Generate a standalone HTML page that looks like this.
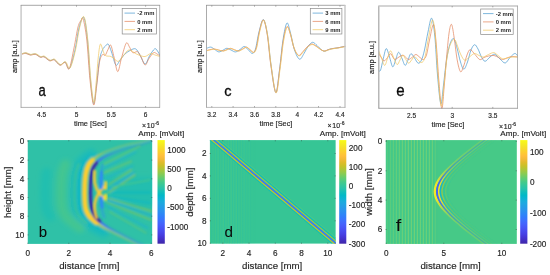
<!DOCTYPE html>
<html><head><meta charset="utf-8"><title>figure</title>
<style>html,body{margin:0;padding:0;background:#fff}svg{display:block}text:not([stroke]){stroke:#262626;stroke-width:0.16px}</style></head>
<body>
<svg width="550" height="275" viewBox="0 0 550 275" font-family="'Liberation Sans', Arial, sans-serif" fill="#262626">
<defs>
<clipPath id="clipa"><rect x="21.5" y="5.5" width="138.5" height="102.5"/></clipPath>
<clipPath id="clipc"><rect x="206.7" y="5.5" width="138.8" height="102.5"/></clipPath>
<clipPath id="clipe"><rect x="378.5" y="6" width="139.3" height="102.8"/></clipPath>
<clipPath id="clipb"><rect x="27.50" y="140.10" width="124.90" height="103.80"/></clipPath>
<filter id="bl1" x="-20%" y="-20%" width="140%" height="140%"><feGaussianBlur stdDeviation="1.0"/></filter>
<filter id="bl2" x="-20%" y="-20%" width="140%" height="140%"><feGaussianBlur stdDeviation="1.6"/></filter>
<filter id="bl07" x="-20%" y="-20%" width="140%" height="140%"><feGaussianBlur stdDeviation="1.15"/></filter>
<filter id="bl03" x="-20%" y="-20%" width="140%" height="140%"><feGaussianBlur stdDeviation="0.3"/></filter>
<filter id="bl3" x="-30%" y="-30%" width="160%" height="160%"><feGaussianBlur stdDeviation="2.6"/></filter>
<filter id="bl05" x="-20%" y="-20%" width="140%" height="140%"><feGaussianBlur stdDeviation="0.45"/></filter>
<linearGradient id="mgb" gradientUnits="userSpaceOnUse" x1="0" y1="140" x2="0" y2="244"><stop offset="0" stop-color="#383838"/><stop offset="0.12" stop-color="#5c5c5c"/><stop offset="0.20" stop-color="#fff"/><stop offset="0.80" stop-color="#fff"/><stop offset="0.88" stop-color="#6a6a6a"/><stop offset="1" stop-color="#4a4a4a"/></linearGradient>
<mask id="mb" maskUnits="userSpaceOnUse" x="0" y="130" width="200" height="130"><rect x="0" y="130" width="200" height="130" fill="url(#mgb)"/></mask>
<linearGradient id="cbb" x1="0" y1="0" x2="0" y2="1"><stop offset="0.0000" stop-color="#f9fb15"/><stop offset="0.0312" stop-color="#f6ef20"/><stop offset="0.0625" stop-color="#f5e327"/><stop offset="0.0938" stop-color="#f9d62d"/><stop offset="0.1250" stop-color="#feca33"/><stop offset="0.1562" stop-color="#febe3c"/><stop offset="0.1875" stop-color="#f1ba37"/><stop offset="0.2188" stop-color="#debc2a"/><stop offset="0.2500" stop-color="#c8c129"/><stop offset="0.2812" stop-color="#afc637"/><stop offset="0.3125" stop-color="#94ca4a"/><stop offset="0.3438" stop-color="#77cc60"/><stop offset="0.3750" stop-color="#5ccc76"/><stop offset="0.4062" stop-color="#44ca8a"/><stop offset="0.4375" stop-color="#34c79c"/><stop offset="0.4688" stop-color="#28c2ab"/><stop offset="0.5000" stop-color="#12beb9"/><stop offset="0.5312" stop-color="#01b9c6"/><stop offset="0.5625" stop-color="#0cb3d3"/><stop offset="0.5938" stop-color="#1aacdd"/><stop offset="0.6250" stop-color="#21a3e3"/><stop offset="0.6562" stop-color="#269ae9"/><stop offset="0.6875" stop-color="#2c90f0"/><stop offset="0.7188" stop-color="#2e85f8"/><stop offset="0.7500" stop-color="#347afd"/><stop offset="0.7812" stop-color="#3f6efe"/><stop offset="0.8125" stop-color="#4562fc"/><stop offset="0.8438" stop-color="#4757f7"/><stop offset="0.8750" stop-color="#484cef"/><stop offset="0.9062" stop-color="#4741e5"/><stop offset="0.9375" stop-color="#4536d5"/><stop offset="0.9688" stop-color="#422ebf"/><stop offset="1.0000" stop-color="#3e26a8"/></linearGradient>
<clipPath id="clipd"><rect x="209.70" y="140.10" width="126.10" height="103.70"/></clipPath>
<pattern id="strd" patternUnits="userSpaceOnUse" x="211.0" y="0" width="2.6" height="10"><rect x="0" y="0" width="1.3" height="10" fill="#2abfa2"/><rect x="1.3" y="0" width="1.3" height="10" fill="#4cca84"/></pattern>
<linearGradient id="strdm" gradientUnits="userSpaceOnUse" x1="210" y1="0" x2="256" y2="0"><stop offset="0" stop-color="#aaa"/><stop offset="0.5" stop-color="#fff"/><stop offset="1" stop-color="#000"/></linearGradient>
<mask id="mstrd" maskUnits="userSpaceOnUse" x="205" y="130" width="60" height="130"><rect x="205" y="130" width="60" height="130" fill="url(#strdm)"/></mask>
<linearGradient id="cbd" x1="0" y1="0" x2="0" y2="1"><stop offset="0.0000" stop-color="#f9fb15"/><stop offset="0.0312" stop-color="#f6ef20"/><stop offset="0.0625" stop-color="#f5e327"/><stop offset="0.0938" stop-color="#f9d62d"/><stop offset="0.1250" stop-color="#feca33"/><stop offset="0.1562" stop-color="#febe3c"/><stop offset="0.1875" stop-color="#f1ba37"/><stop offset="0.2188" stop-color="#debc2a"/><stop offset="0.2500" stop-color="#c8c129"/><stop offset="0.2812" stop-color="#afc637"/><stop offset="0.3125" stop-color="#94ca4a"/><stop offset="0.3438" stop-color="#77cc60"/><stop offset="0.3750" stop-color="#5ccc76"/><stop offset="0.4062" stop-color="#44ca8a"/><stop offset="0.4375" stop-color="#34c79c"/><stop offset="0.4688" stop-color="#28c2ab"/><stop offset="0.5000" stop-color="#12beb9"/><stop offset="0.5312" stop-color="#01b9c6"/><stop offset="0.5625" stop-color="#0cb3d3"/><stop offset="0.5938" stop-color="#1aacdd"/><stop offset="0.6250" stop-color="#21a3e3"/><stop offset="0.6562" stop-color="#269ae9"/><stop offset="0.6875" stop-color="#2c90f0"/><stop offset="0.7188" stop-color="#2e85f8"/><stop offset="0.7500" stop-color="#347afd"/><stop offset="0.7812" stop-color="#3f6efe"/><stop offset="0.8125" stop-color="#4562fc"/><stop offset="0.8438" stop-color="#4757f7"/><stop offset="0.8750" stop-color="#484cef"/><stop offset="0.9062" stop-color="#4741e5"/><stop offset="0.9375" stop-color="#4536d5"/><stop offset="0.9688" stop-color="#422ebf"/><stop offset="1.0000" stop-color="#3e26a8"/></linearGradient>
<clipPath id="clipf"><rect x="385.50" y="140.10" width="131.40" height="103.80"/></clipPath>
<radialGradient id="mgf" gradientUnits="userSpaceOnUse" cx="437" cy="191.5" r="60"><stop offset="0" stop-color="#fff"/><stop offset="0.1" stop-color="#fff"/><stop offset="0.2" stop-color="#d0d0d0"/><stop offset="0.3" stop-color="#929292"/><stop offset="0.4" stop-color="#666"/><stop offset="0.6" stop-color="#444"/><stop offset="1" stop-color="#2e2e2e"/></radialGradient>
<mask id="mf" maskUnits="userSpaceOnUse" x="380" y="130" width="150" height="130"><rect x="380" y="130" width="150" height="130" fill="url(#mgf)"/></mask>
<pattern id="strf" patternUnits="userSpaceOnUse" x="388.0" y="0" width="3.0" height="10"><rect x="0" y="0" width="1.8" height="10" fill="#40c78c"/><rect x="1.8" y="0" width="1.2" height="10" fill="#8ad66c"/></pattern>
<linearGradient id="strfm" gradientUnits="userSpaceOnUse" x1="386" y1="0" x2="438" y2="0"><stop offset="0" stop-color="#333"/><stop offset="0.12" stop-color="#999"/><stop offset="0.5" stop-color="#fff"/><stop offset="0.9" stop-color="#ccc"/><stop offset="1" stop-color="#000"/></linearGradient>
<mask id="mstr" maskUnits="userSpaceOnUse" x="380" y="130" width="70" height="130"><rect x="380" y="130" width="70" height="130" fill="url(#strfm)"/></mask>
<linearGradient id="cbf" x1="0" y1="0" x2="0" y2="1"><stop offset="0.0000" stop-color="#f9fb15"/><stop offset="0.0312" stop-color="#f6ef20"/><stop offset="0.0625" stop-color="#f5e327"/><stop offset="0.0938" stop-color="#f9d62d"/><stop offset="0.1250" stop-color="#feca33"/><stop offset="0.1562" stop-color="#febe3c"/><stop offset="0.1875" stop-color="#f1ba37"/><stop offset="0.2188" stop-color="#debc2a"/><stop offset="0.2500" stop-color="#c8c129"/><stop offset="0.2812" stop-color="#afc637"/><stop offset="0.3125" stop-color="#94ca4a"/><stop offset="0.3438" stop-color="#77cc60"/><stop offset="0.3750" stop-color="#5ccc76"/><stop offset="0.4062" stop-color="#44ca8a"/><stop offset="0.4375" stop-color="#34c79c"/><stop offset="0.4688" stop-color="#28c2ab"/><stop offset="0.5000" stop-color="#12beb9"/><stop offset="0.5312" stop-color="#01b9c6"/><stop offset="0.5625" stop-color="#0cb3d3"/><stop offset="0.5938" stop-color="#1aacdd"/><stop offset="0.6250" stop-color="#21a3e3"/><stop offset="0.6562" stop-color="#269ae9"/><stop offset="0.6875" stop-color="#2c90f0"/><stop offset="0.7188" stop-color="#2e85f8"/><stop offset="0.7500" stop-color="#347afd"/><stop offset="0.7812" stop-color="#3f6efe"/><stop offset="0.8125" stop-color="#4562fc"/><stop offset="0.8438" stop-color="#4757f7"/><stop offset="0.8750" stop-color="#484cef"/><stop offset="0.9062" stop-color="#4741e5"/><stop offset="0.9375" stop-color="#4536d5"/><stop offset="0.9688" stop-color="#422ebf"/><stop offset="1.0000" stop-color="#3e26a8"/></linearGradient>
</defs>
<rect width="550" height="275" fill="#fff"/>
<g>
<g fill="none" stroke-width="0.80" stroke-linejoin="round" stroke-opacity="0.92" clip-path="url(#clipa)">
<path d="M21.50 54.00C22.22 53.83 24.35 52.88 25.80 53.00C27.25 53.12 28.62 54.53 30.20 54.70C31.78 54.87 33.60 53.63 35.30 54.00C37.00 54.37 38.95 56.48 40.40 56.90C41.85 57.32 42.43 55.90 44.00 56.50C45.57 57.10 48.10 60.00 49.80 60.50C51.50 61.00 52.50 58.77 54.20 59.50C55.90 60.23 58.18 64.48 60.00 64.90C61.82 65.32 63.52 61.42 65.10 62.00C66.68 62.58 67.85 70.40 69.50 68.40C71.15 66.40 73.42 56.73 75.00 50.00C76.58 43.27 77.53 33.42 79.00 28.00C80.47 22.58 82.38 15.50 83.80 17.50C85.22 19.50 86.38 29.58 87.50 40.00C88.62 50.42 89.47 69.42 90.50 80.00C91.53 90.58 92.70 102.67 93.70 103.50C94.70 104.33 95.53 92.25 96.50 85.00C97.47 77.75 98.50 65.85 99.50 60.00C100.50 54.15 101.58 52.15 102.50 49.90C103.42 47.65 104.05 47.45 105.00 46.50C105.95 45.55 107.12 43.28 108.20 44.20C109.28 45.12 110.23 48.53 111.50 52.00C112.77 55.47 114.47 63.50 115.80 65.00C117.13 66.50 118.08 62.73 119.50 61.00C120.92 59.27 122.55 56.35 124.30 54.60C126.05 52.85 128.12 51.45 130.00 50.50C131.88 49.55 133.93 48.15 135.60 48.90C137.27 49.65 138.42 52.48 140.00 55.00C141.58 57.52 143.52 63.83 145.10 64.00C146.68 64.17 147.92 58.52 149.50 56.00C151.08 53.48 153.27 49.73 154.60 48.90C155.93 48.07 156.60 49.90 157.50 51.00C158.40 52.10 159.58 54.75 160.00 55.50" stroke="#4f9dd1"/>
<path d="M21.50 54.40C22.22 54.23 24.35 53.28 25.80 53.40C27.25 53.52 28.62 54.93 30.20 55.10C31.78 55.27 33.60 54.03 35.30 54.40C37.00 54.77 38.95 56.88 40.40 57.30C41.85 57.72 42.43 56.30 44.00 56.90C45.57 57.50 48.10 60.40 49.80 60.90C51.50 61.40 52.50 59.17 54.20 59.90C55.90 60.63 58.18 64.88 60.00 65.30C61.82 65.72 63.57 61.82 65.10 62.40C66.63 62.98 67.72 71.20 69.20 68.80C70.68 66.40 72.53 54.97 74.00 48.00C75.47 41.03 76.83 31.58 78.00 27.00C79.17 22.42 80.13 21.83 81.00 20.50C81.87 19.17 82.23 15.75 83.20 19.00C84.17 22.25 85.67 29.83 86.80 40.00C87.93 50.17 88.85 69.17 90.00 80.00C91.15 90.83 92.57 104.17 93.70 105.00C94.83 105.83 95.83 92.17 96.80 85.00C97.77 77.83 98.55 67.07 99.50 62.00C100.45 56.93 101.55 55.72 102.50 54.60C103.45 53.48 104.32 56.07 105.20 55.30C106.08 54.53 106.88 51.70 107.80 50.00C108.72 48.30 109.67 43.93 110.70 45.10C111.73 46.27 112.83 52.58 114.00 57.00C115.17 61.42 116.45 71.43 117.70 71.60C118.95 71.77 120.08 62.73 121.50 58.00C122.92 53.27 124.87 45.03 126.20 43.20C127.53 41.37 128.40 45.42 129.50 47.00C130.60 48.58 131.47 51.92 132.80 52.70C134.13 53.48 136.13 50.98 137.50 51.70C138.87 52.42 139.73 54.78 141.00 57.00C142.27 59.22 143.77 64.75 145.10 65.00C146.43 65.25 147.58 60.55 149.00 58.50C150.42 56.45 152.27 53.45 153.60 52.70C154.93 51.95 155.93 53.48 157.00 54.00C158.07 54.52 159.50 55.50 160.00 55.80" stroke="#e4875f"/>
<path d="M21.90 53.70C22.62 53.53 24.75 52.58 26.20 52.70C27.65 52.82 29.02 54.23 30.60 54.40C32.18 54.57 34.00 53.33 35.70 53.70C37.40 54.07 39.35 56.18 40.80 56.60C42.25 57.02 42.83 55.60 44.40 56.20C45.97 56.80 48.50 59.70 50.20 60.20C51.90 60.70 52.90 58.47 54.60 59.20C56.30 59.93 58.58 64.18 60.40 64.60C62.22 65.02 63.90 61.13 65.50 61.70C67.10 62.27 68.33 69.95 70.00 68.00C71.67 66.05 73.92 56.67 75.50 50.00C77.08 43.33 78.08 33.53 79.50 28.00C80.92 22.47 82.62 14.80 84.00 16.80C85.38 18.80 86.67 29.47 87.80 40.00C88.93 50.53 89.78 69.58 90.80 80.00C91.82 90.42 93.00 102.17 93.90 102.50C94.80 102.83 95.48 89.42 96.20 82.00C96.92 74.58 97.52 64.30 98.20 58.00C98.88 51.70 99.53 45.53 100.30 44.20C101.07 42.87 101.95 48.12 102.80 50.00C103.65 51.88 104.03 54.42 105.40 55.50C106.77 56.58 109.40 55.83 111.00 56.50C112.60 57.17 113.73 58.72 115.00 59.50C116.27 60.28 117.18 61.87 118.60 61.20C120.02 60.53 121.77 57.38 123.50 55.50C125.23 53.62 126.98 50.22 129.00 49.90C131.02 49.58 133.68 52.65 135.60 53.60C137.52 54.55 138.92 55.12 140.50 55.60C142.08 56.08 143.38 56.83 145.10 56.50C146.82 56.17 149.07 53.82 150.80 53.60C152.53 53.38 153.97 54.72 155.50 55.20C157.03 55.68 159.25 56.28 160.00 56.50" stroke="#f2c863"/>
</g>
<path d="M21.10 5.00V107.70" stroke="#d0d0d0" stroke-width="1.70"/>
<path d="M20.80 5.30H160.00" stroke="#8a8a8a" stroke-width="0.75"/>
<path d="M159.70 5.00V107.70" stroke="#999" stroke-width="0.75"/>
<path d="M20.80 107.40H160.00" stroke="#999" stroke-width="0.75"/>
<path d="M41.50 107.40v-1.4M41.50 5.30v1.4" stroke="#777" stroke-width="0.6"/>
<text x="41.50" y="116.60" font-size="6.5" text-anchor="middle">4.5</text>
<path d="M76.50 107.40v-1.4M76.50 5.30v1.4" stroke="#777" stroke-width="0.6"/>
<text x="76.50" y="116.60" font-size="6.5" text-anchor="middle">5</text>
<path d="M111.30 107.40v-1.4M111.30 5.30v1.4" stroke="#777" stroke-width="0.6"/>
<text x="111.30" y="116.60" font-size="6.5" text-anchor="middle">5.5</text>
<path d="M145.60 107.40v-1.4M145.60 5.30v1.4" stroke="#777" stroke-width="0.6"/>
<text x="145.60" y="116.60" font-size="6.5" text-anchor="middle">6</text>
<text x="90.40" y="126.10" font-size="7.4" text-anchor="middle">time [Sec]</text>
<text transform="translate(17.00 56.65) rotate(-90)" font-size="7.4" text-anchor="middle">amp [a.u.]</text>
<text x="142.00" y="128.10" font-size="6.9">×<tspan dx="0.8">10</tspan><tspan dy="-2.9" font-size="5.0">-6</tspan></text>
<rect x="122.20" y="8.50" width="34.20" height="25.50" fill="#fff" stroke="#8a8a8a" stroke-width="0.7"/>
<path d="M124.50 13.10h10.5" stroke="#4f9dd1" stroke-width="0.8" stroke-opacity="0.92"/>
<text x="137.20" y="15.30" font-size="5.85" font-weight="bold" stroke="none">-2 mm</text>
<path d="M124.50 21.40h10.5" stroke="#e4875f" stroke-width="0.8" stroke-opacity="0.92"/>
<text x="137.20" y="23.60" font-size="5.85" font-weight="bold" stroke="none">0 mm</text>
<path d="M124.50 29.70h10.5" stroke="#f2c863" stroke-width="0.8" stroke-opacity="0.92"/>
<text x="137.20" y="31.90" font-size="5.85" font-weight="bold" stroke="none">2 mm</text>
<text transform="matrix(0.1304 0 0 0.1697 38.60 95.83)" font-size="100" fill="#0a0a0a" stroke="#0a0a0a" stroke-width="2.02">a</text>
</g>
<g>
<g fill="none" stroke-width="0.80" stroke-linejoin="round" stroke-opacity="0.92" clip-path="url(#clipc)">
<path d="M206.70 48.30C207.38 48.10 209.50 46.93 210.80 47.10C212.10 47.27 213.17 48.50 214.50 49.30C215.83 50.10 217.38 51.75 218.80 51.90C220.22 52.05 221.67 50.80 223.00 50.20C224.33 49.60 225.47 48.33 226.80 48.30C228.13 48.27 229.55 49.40 231.00 50.00C232.45 50.60 234.00 51.98 235.50 51.90C237.00 51.82 238.53 50.40 240.00 49.50C241.47 48.60 242.88 46.42 244.30 46.50C245.72 46.58 247.17 48.85 248.50 50.00C249.83 51.15 251.13 53.57 252.30 53.40C253.47 53.23 254.38 52.57 255.50 49.00C256.62 45.43 257.68 36.90 259.00 32.00C260.32 27.10 261.98 19.10 263.40 19.60C264.82 20.10 266.23 27.43 267.50 35.00C268.77 42.57 269.62 55.43 271.00 65.00C272.38 74.57 274.38 91.57 275.80 92.40C277.22 93.23 278.30 78.73 279.50 70.00C280.70 61.27 281.77 47.82 283.00 40.00C284.23 32.18 285.65 24.27 286.90 23.10C288.15 21.93 289.23 28.52 290.50 33.00C291.77 37.48 293.00 45.63 294.50 50.00C296.00 54.37 297.92 58.62 299.50 59.20C301.08 59.78 302.58 55.62 304.00 53.50C305.42 51.38 306.57 48.37 308.00 46.50C309.43 44.63 311.10 42.47 312.60 42.30C314.10 42.13 315.60 44.30 317.00 45.50C318.40 46.70 319.75 48.55 321.00 49.50C322.25 50.45 323.33 51.15 324.50 51.20C325.67 51.25 326.78 50.22 328.00 49.80C329.22 49.38 330.13 49.03 331.80 48.70C333.47 48.37 335.72 48.22 338.00 47.80C340.28 47.38 344.25 46.47 345.50 46.20" stroke="#4f9dd1"/>
<path d="M206.70 50.50C207.87 50.25 211.73 49.08 213.70 49.00C215.67 48.92 216.92 49.68 218.50 50.00C220.08 50.32 221.78 50.98 223.20 50.90C224.62 50.82 225.78 49.93 227.00 49.50C228.22 49.07 229.25 48.25 230.50 48.30C231.75 48.35 233.17 49.37 234.50 49.80C235.83 50.23 237.17 51.03 238.50 50.90C239.83 50.77 241.17 49.63 242.50 49.00C243.83 48.37 245.25 46.97 246.50 47.10C247.75 47.23 248.80 48.93 250.00 49.80C251.20 50.67 252.62 52.77 253.70 52.30C254.78 51.83 255.53 50.55 256.50 47.00C257.47 43.45 258.35 35.52 259.50 31.00C260.65 26.48 262.10 19.23 263.40 19.90C264.70 20.57 266.07 27.48 267.30 35.00C268.53 42.52 269.38 55.40 270.80 65.00C272.22 74.60 274.33 91.77 275.80 92.60C277.27 93.43 278.37 78.60 279.60 70.00C280.83 61.40 281.98 48.23 283.20 41.00C284.42 33.77 285.72 27.77 286.90 26.60C288.08 25.43 289.12 30.43 290.30 34.00C291.48 37.57 292.62 44.43 294.00 48.00C295.38 51.57 297.10 54.82 298.60 55.40C300.10 55.98 301.60 52.90 303.00 51.50C304.40 50.10 305.55 48.25 307.00 47.00C308.45 45.75 310.20 44.17 311.70 44.00C313.20 43.83 314.62 45.17 316.00 46.00C317.38 46.83 318.67 48.17 320.00 49.00C321.33 49.83 322.67 50.87 324.00 51.00C325.33 51.13 326.70 50.18 328.00 49.80C329.30 49.42 330.13 49.03 331.80 48.70C333.47 48.37 335.72 48.20 338.00 47.80C340.28 47.40 344.25 46.55 345.50 46.30" stroke="#e4875f"/>
<path d="M207.00 50.70C208.17 50.45 212.03 49.28 214.00 49.20C215.97 49.12 217.22 49.88 218.80 50.20C220.38 50.52 222.08 51.18 223.50 51.10C224.92 51.02 226.08 50.13 227.30 49.70C228.52 49.27 229.55 48.45 230.80 48.50C232.05 48.55 233.47 49.57 234.80 50.00C236.13 50.43 237.47 51.23 238.80 51.10C240.13 50.97 241.47 49.83 242.80 49.20C244.13 48.57 245.55 47.17 246.80 47.30C248.05 47.43 249.10 49.13 250.30 50.00C251.50 50.87 252.92 52.97 254.00 52.50C255.08 52.03 255.83 50.75 256.80 47.20C257.77 43.65 258.65 35.72 259.80 31.20C260.95 26.68 262.40 19.43 263.70 20.10C265.00 20.77 266.37 27.68 267.60 35.20C268.83 42.72 269.68 55.60 271.10 65.20C272.52 74.80 274.63 91.97 276.10 92.80C277.57 93.63 278.67 78.75 279.90 70.20C281.13 61.65 282.28 48.68 283.50 41.50C284.72 34.32 286.02 28.27 287.20 27.10C288.38 25.93 289.42 30.93 290.60 34.50C291.78 38.07 292.92 44.93 294.30 48.50C295.68 52.07 297.40 55.32 298.90 55.90C300.40 56.48 301.90 53.40 303.30 52.00C304.70 50.60 305.85 48.75 307.30 47.50C308.75 46.25 310.50 44.67 312.00 44.50C313.50 44.33 314.92 45.72 316.30 46.50C317.68 47.28 318.97 48.42 320.30 49.20C321.63 49.98 322.97 51.07 324.30 51.20C325.63 51.33 327.00 50.38 328.30 50.00C329.60 49.62 330.43 49.23 332.10 48.90C333.77 48.57 336.02 48.40 338.30 48.00C340.58 47.60 344.55 46.75 345.80 46.50" stroke="#f2c863"/>
</g>
<path d="M206.50 5.00V107.70" stroke="#a2a2a2" stroke-width="0.90"/>
<path d="M206.20 5.30H345.30" stroke="#8a8a8a" stroke-width="0.75"/>
<path d="M345.00 5.00V107.70" stroke="#c6c6c6" stroke-width="1.40"/>
<path d="M206.20 107.40H345.30" stroke="#adadad" stroke-width="0.80"/>
<path d="M211.80 107.40v-1.4M211.80 5.30v1.4" stroke="#777" stroke-width="0.6"/>
<text x="211.80" y="116.60" font-size="6.5" text-anchor="middle">3.2</text>
<path d="M233.10 107.40v-1.4M233.10 5.30v1.4" stroke="#777" stroke-width="0.6"/>
<text x="233.10" y="116.60" font-size="6.5" text-anchor="middle">3.4</text>
<path d="M254.50 107.40v-1.4M254.50 5.30v1.4" stroke="#777" stroke-width="0.6"/>
<text x="254.50" y="116.60" font-size="6.5" text-anchor="middle">3.6</text>
<path d="M275.80 107.40v-1.4M275.80 5.30v1.4" stroke="#777" stroke-width="0.6"/>
<text x="275.80" y="116.60" font-size="6.5" text-anchor="middle">3.8</text>
<path d="M297.30 107.40v-1.4M297.30 5.30v1.4" stroke="#777" stroke-width="0.6"/>
<text x="297.30" y="116.60" font-size="6.5" text-anchor="middle">4</text>
<path d="M318.50 107.40v-1.4M318.50 5.30v1.4" stroke="#777" stroke-width="0.6"/>
<text x="318.50" y="116.60" font-size="6.5" text-anchor="middle">4.2</text>
<path d="M340.00 107.40v-1.4M340.00 5.30v1.4" stroke="#777" stroke-width="0.6"/>
<text x="340.00" y="116.60" font-size="6.5" text-anchor="middle">4.4</text>
<text x="276.00" y="126.10" font-size="7.4" text-anchor="middle">time [Sec]</text>
<text transform="translate(202.00 56.65) rotate(-90)" font-size="7.4" text-anchor="middle">amp [a.u.]</text>
<text x="327.50" y="128.10" font-size="6.9">×<tspan dx="0.8">10</tspan><tspan dy="-2.9" font-size="5.0">-6</tspan></text>
<rect x="310.30" y="8.50" width="31.60" height="25.50" fill="#fff" stroke="#8a8a8a" stroke-width="0.7"/>
<path d="M312.60 13.10h10.5" stroke="#4f9dd1" stroke-width="0.8" stroke-opacity="0.92"/>
<text x="325.30" y="15.30" font-size="5.85" font-weight="bold" stroke="none">3 mm</text>
<path d="M312.60 21.40h10.5" stroke="#e4875f" stroke-width="0.8" stroke-opacity="0.92"/>
<text x="325.30" y="23.60" font-size="5.85" font-weight="bold" stroke="none">6 mm</text>
<path d="M312.60 29.70h10.5" stroke="#f2c863" stroke-width="0.8" stroke-opacity="0.92"/>
<text x="325.30" y="31.90" font-size="5.85" font-weight="bold" stroke="none">9 mm</text>
<text transform="matrix(0.1458 0 0 0.1533 224.24 96.05)" font-size="100" fill="#0a0a0a" stroke="#0a0a0a" stroke-width="2.01">c</text>
</g>
<g>
<g fill="none" stroke-width="0.80" stroke-linejoin="round" stroke-opacity="0.92" clip-path="url(#clipe)">
<path d="M378.60 70.50C378.92 70.47 379.77 72.05 380.50 70.30C381.23 68.55 382.05 63.62 383.00 60.00C383.95 56.38 385.12 49.10 386.20 48.60C387.28 48.10 388.42 53.97 389.50 57.00C390.58 60.03 391.68 66.30 392.70 66.80C393.72 67.30 394.63 62.42 395.60 60.00C396.57 57.58 397.47 52.63 398.50 52.30C399.53 51.97 400.70 55.82 401.80 58.00C402.90 60.18 404.07 65.07 405.10 65.40C406.13 65.73 407.03 61.95 408.00 60.00C408.97 58.05 409.82 54.03 410.90 53.70C411.98 53.37 413.28 56.42 414.50 58.00C415.72 59.58 417.03 62.87 418.20 63.20C419.37 63.53 420.45 62.20 421.50 60.00C422.55 57.80 423.42 54.67 424.50 50.00C425.58 45.33 426.82 37.30 428.00 32.00C429.18 26.70 430.47 17.53 431.60 18.20C432.73 18.87 433.82 26.53 434.80 36.00C435.78 45.47 436.50 63.73 437.50 75.00C438.50 86.27 439.80 101.93 440.80 103.60C441.80 105.27 442.55 92.27 443.50 85.00C444.45 77.73 445.42 66.83 446.50 60.00C447.58 53.17 448.80 47.57 450.00 44.00C451.20 40.43 452.53 37.93 453.70 38.60C454.87 39.27 455.87 44.10 457.00 48.00C458.13 51.90 459.37 58.47 460.50 62.00C461.63 65.53 462.63 69.20 463.80 69.20C464.97 69.20 466.30 65.20 467.50 62.00C468.70 58.80 469.82 52.88 471.00 50.00C472.18 47.12 473.43 44.87 474.60 44.70C475.77 44.53 476.85 46.95 478.00 49.00C479.15 51.05 480.32 54.95 481.50 57.00C482.68 59.05 483.68 61.30 485.10 61.30C486.52 61.30 488.40 58.17 490.00 57.00C491.60 55.83 493.03 53.97 494.70 54.30C496.37 54.63 498.25 57.55 500.00 59.00C501.75 60.45 503.53 63.25 505.20 63.00C506.87 62.75 508.40 59.08 510.00 57.50C511.60 55.92 513.50 53.75 514.80 53.50C516.10 53.25 517.30 55.58 517.80 56.00" stroke="#4f9dd1"/>
<path d="M378.60 53.70C379.00 54.25 380.10 55.78 381.00 57.00C381.90 58.22 382.92 60.92 384.00 61.00C385.08 61.08 386.42 58.72 387.50 57.50C388.58 56.28 389.62 53.78 390.50 53.70C391.38 53.62 392.07 56.03 392.80 57.00C393.53 57.97 393.87 59.50 394.90 59.50C395.93 59.50 397.67 57.72 399.00 57.00C400.33 56.28 401.73 55.12 402.90 55.20C404.07 55.28 405.03 56.78 406.00 57.50C406.97 58.22 407.62 59.58 408.70 59.50C409.78 59.42 411.28 57.83 412.50 57.00C413.72 56.17 414.75 54.42 416.00 54.50C417.25 54.58 418.78 56.67 420.00 57.50C421.22 58.33 422.22 59.92 423.30 59.50C424.38 59.08 425.47 58.25 426.50 55.00C427.53 51.75 428.32 45.08 429.50 40.00C430.68 34.92 432.47 23.67 433.60 24.50C434.73 25.33 435.43 35.75 436.30 45.00C437.17 54.25 437.88 69.42 438.80 80.00C439.72 90.58 440.88 107.67 441.80 108.50C442.72 109.33 443.47 93.92 444.30 85.00C445.13 76.08 445.98 63.83 446.80 55.00C447.62 46.17 448.40 37.08 449.20 32.00C450.00 26.92 450.77 23.50 451.60 24.50C452.43 25.50 453.27 32.08 454.20 38.00C455.13 43.92 456.13 54.37 457.20 60.00C458.27 65.63 459.47 70.97 460.60 71.80C461.73 72.63 462.93 67.80 464.00 65.00C465.07 62.20 465.97 57.57 467.00 55.00C468.03 52.43 468.87 49.68 470.20 49.60C471.53 49.52 473.40 52.83 475.00 54.50C476.60 56.17 478.30 59.10 479.80 59.60C481.30 60.10 482.53 58.10 484.00 57.50C485.47 56.90 486.93 56.33 488.60 56.00C490.27 55.67 492.35 55.25 494.00 55.50C495.65 55.75 497.08 56.82 498.50 57.50C499.92 58.18 501.08 59.52 502.50 59.60C503.92 59.68 505.53 58.50 507.00 58.00C508.47 57.50 509.50 56.77 511.30 56.60C513.10 56.43 516.72 56.93 517.80 57.00" stroke="#e4875f"/>
<path d="M378.60 50.80C379.08 52.00 380.48 55.57 381.50 58.00C382.52 60.43 383.68 65.40 384.70 65.40C385.72 65.40 386.63 60.43 387.60 58.00C388.57 55.57 389.47 50.80 390.50 50.80C391.53 50.80 392.70 55.70 393.80 58.00C394.90 60.30 396.07 64.27 397.10 64.60C398.13 64.93 399.03 61.57 400.00 60.00C400.97 58.43 401.93 55.28 402.90 55.20C403.87 55.12 404.83 58.17 405.80 59.50C406.77 60.83 407.73 63.12 408.70 63.20C409.67 63.28 410.63 61.10 411.60 60.00C412.57 58.90 413.43 56.60 414.50 56.60C415.57 56.60 416.78 59.02 418.00 60.00C419.22 60.98 420.63 63.00 421.80 62.50C422.97 62.00 423.88 61.08 425.00 57.00C426.12 52.92 427.23 44.17 428.50 38.00C429.77 31.83 431.43 20.00 432.60 20.00C433.77 20.00 434.60 28.83 435.50 38.00C436.40 47.17 437.05 63.67 438.00 75.00C438.95 86.33 440.20 104.33 441.20 106.00C442.20 107.67 443.03 93.00 444.00 85.00C444.97 77.00 445.92 64.83 447.00 58.00C448.08 51.17 449.25 47.08 450.50 44.00C451.75 40.92 453.33 39.17 454.50 39.50C455.67 39.83 456.42 43.42 457.50 46.00C458.58 48.58 459.75 52.60 461.00 55.00C462.25 57.40 463.50 60.15 465.00 60.40C466.50 60.65 468.40 57.65 470.00 56.50C471.60 55.35 473.10 53.67 474.60 53.50C476.10 53.33 477.55 54.92 479.00 55.50C480.45 56.08 481.72 57.17 483.30 57.00C484.88 56.83 486.75 55.23 488.50 54.50C490.25 53.77 492.22 52.43 493.80 52.60C495.38 52.77 496.55 54.48 498.00 55.50C499.45 56.52 500.83 58.32 502.50 58.70C504.17 59.08 506.33 58.08 508.00 57.80C509.67 57.52 510.87 57.13 512.50 57.00C514.13 56.87 516.92 57.00 517.80 57.00" stroke="#f2c863"/>
</g>
<path d="M378.80 5.70V108.60" stroke="#a6a6a6" stroke-width="1.20"/>
<path d="M378.50 6.00H517.80" stroke="#c6c6c6" stroke-width="1.50"/>
<path d="M517.50 5.70V108.60" stroke="#999" stroke-width="0.75"/>
<path d="M378.50 108.30H517.80" stroke="#8a8a8a" stroke-width="0.75"/>
<path d="M411.50 108.30v-1.4M411.50 6.00v1.4" stroke="#777" stroke-width="0.6"/>
<text x="411.50" y="117.50" font-size="6.5" text-anchor="middle">2.5</text>
<path d="M452.20 108.30v-1.4M452.20 6.00v1.4" stroke="#777" stroke-width="0.6"/>
<text x="452.20" y="117.50" font-size="6.5" text-anchor="middle">3</text>
<path d="M492.80 108.30v-1.4M492.80 6.00v1.4" stroke="#777" stroke-width="0.6"/>
<text x="492.80" y="117.50" font-size="6.5" text-anchor="middle">3.5</text>
<text x="448.00" y="127.00" font-size="7.4" text-anchor="middle">time [Sec]</text>
<text transform="translate(374.00 57.45) rotate(-90)" font-size="7.4" text-anchor="middle">amp [a.u.]</text>
<text x="499.00" y="129.00" font-size="6.9">×<tspan dx="0.8">10</tspan><tspan dy="-2.9" font-size="5.0">-6</tspan></text>
<rect x="480.70" y="9.00" width="32.50" height="25.40" fill="#fff" stroke="#8a8a8a" stroke-width="0.7"/>
<path d="M483.00 13.60h10.5" stroke="#4f9dd1" stroke-width="0.8" stroke-opacity="0.92"/>
<text x="495.70" y="15.80" font-size="5.85" font-weight="bold" stroke="none">-2 mm</text>
<path d="M483.00 21.90h10.5" stroke="#e4875f" stroke-width="0.8" stroke-opacity="0.92"/>
<text x="495.70" y="24.10" font-size="5.85" font-weight="bold" stroke="none">0 mm</text>
<path d="M483.00 30.20h10.5" stroke="#f2c863" stroke-width="0.8" stroke-opacity="0.92"/>
<text x="495.70" y="32.40" font-size="5.85" font-weight="bold" stroke="none">2 mm</text>
<text transform="matrix(0.1511 0 0 0.1679 396.32 96.03)" font-size="100" fill="#0a0a0a" stroke="#0a0a0a" stroke-width="1.88">e</text>
</g>
<g clip-path="url(#clipb)">
<rect x="27.50" y="140.10" width="124.90" height="103.80" fill="#2fc1a7"/>
<g fill="none" filter="url(#bl3)" stroke-linecap="round">
<path d="M91.20 153.80C90.50 154.28 88.33 155.73 87.00 156.70C85.67 157.67 84.48 158.30 83.20 159.60C81.92 160.90 80.42 162.32 79.30 164.50C78.18 166.68 77.17 169.28 76.50 172.70C75.83 176.12 75.50 180.45 75.30 185.00C75.10 189.55 75.10 195.87 75.30 200.00C75.50 204.13 75.72 207.07 76.50 209.80C77.28 212.53 78.25 214.22 80.00 216.40C81.75 218.58 84.67 221.00 87.00 222.90C89.33 224.80 91.25 226.17 94.00 227.80C96.75 229.43 101.92 231.88 103.50 232.70" stroke="#0bb3d2" stroke-width="9" opacity="0.45"/>
<path d="M65.30 164.50C64.83 165.87 63.17 169.28 62.50 172.70C61.83 176.12 61.50 180.45 61.30 185.00C61.10 189.55 61.10 195.87 61.30 200.00C61.50 204.13 61.72 207.07 62.50 209.80C63.28 212.53 64.25 214.22 66.00 216.40C67.75 218.58 70.67 221.00 73.00 222.90C75.33 224.80 78.83 226.98 80.00 227.80" stroke="#62cd71" stroke-width="10" opacity="0.4"/>
<path d="M46.50 172.70C46.30 174.75 45.50 180.45 45.30 185.00C45.10 189.55 45.10 195.87 45.30 200.00C45.50 204.13 45.72 207.07 46.50 209.80C47.28 212.53 49.42 215.30 50.00 216.40" stroke="#02bac3" stroke-width="10" opacity="0.3"/>
<path d="M108 192H150" stroke="#01b8c9" stroke-width="30" opacity="0.25"/>
</g>
<g mask="url(#mb)">
<g fill="none" filter="url(#bl1)" stroke-linecap="round">
<path d="M95.40 153.80C94.70 154.28 92.53 155.73 91.20 156.70C89.87 157.67 88.68 158.30 87.40 159.60C86.12 160.90 84.62 162.32 83.50 164.50C82.38 166.68 81.37 169.28 80.70 172.70C80.03 176.12 79.70 180.45 79.50 185.00C79.30 189.55 79.30 195.87 79.50 200.00C79.70 204.13 79.92 207.07 80.70 209.80C81.48 212.53 82.45 214.22 84.20 216.40C85.95 218.58 88.87 221.00 91.20 222.90C93.53 224.80 95.45 226.17 98.20 227.80C100.95 229.43 106.12 231.88 107.70 232.70" stroke="#09b4d1" stroke-width="4" opacity="0.5"/>
<path d="M78.80 164.50C78.33 165.87 76.67 169.28 76.00 172.70C75.33 176.12 75.00 180.45 74.80 185.00C74.60 189.55 74.60 195.87 74.80 200.00C75.00 204.13 75.22 207.07 76.00 209.80C76.78 212.53 77.75 214.22 79.50 216.40C81.25 218.58 85.33 221.82 86.50 222.90" stroke="#5fcd73" stroke-width="3" opacity="0.35"/>
<path d="M151.70 139.60C149.63 140.03 143.27 141.40 139.30 142.20C135.33 143.00 132.25 143.28 127.90 144.40C123.55 145.52 117.70 147.33 113.20 148.90C108.70 150.47 103.65 152.50 100.90 153.80C98.15 155.10 98.03 155.73 96.70 156.70C95.37 157.67 94.18 158.30 92.90 159.60C91.62 160.90 90.12 162.32 89.00 164.50C87.88 166.68 86.87 169.28 86.20 172.70C85.53 176.12 85.20 180.45 85.00 185.00C84.80 189.55 84.80 195.87 85.00 200.00C85.20 204.13 85.42 207.07 86.20 209.80C86.98 212.53 87.95 214.22 89.70 216.40C91.45 218.58 94.37 221.00 96.70 222.90C99.03 224.80 100.95 226.17 103.70 227.80C106.45 229.43 109.98 231.07 113.20 232.70C116.42 234.33 120.00 236.10 123.00 237.60C126.00 239.10 128.25 240.30 131.20 241.70C134.15 243.10 139.12 245.28 140.70 246.00" stroke="#fec834" stroke-width="2.0"/>
<path d="M151.80 141.00C149.73 141.67 143.65 143.80 139.40 145.00C135.15 146.20 130.40 146.98 126.30 148.20C122.20 149.42 118.33 150.93 114.80 152.30C111.27 153.67 107.53 155.18 105.10 156.40C102.67 157.62 101.70 158.52 100.20 159.60C98.70 160.68 97.33 161.53 96.10 162.90C94.87 164.27 93.60 166.17 92.80 167.80C92.00 169.43 91.72 169.83 91.30 172.70C90.88 175.57 90.47 180.45 90.30 185.00C90.13 189.55 90.10 196.17 90.30 200.00C90.50 203.83 90.82 205.27 91.50 208.00C92.18 210.73 93.10 214.18 94.40 216.40C95.70 218.62 96.98 219.40 99.30 221.30C101.62 223.20 105.15 225.90 108.30 227.80C111.45 229.70 113.83 230.50 118.20 232.70C122.57 234.90 130.07 238.78 134.50 241.00C138.93 243.22 143.08 245.17 144.80 246.00" stroke="#4367fd" stroke-width="2.0"/>
<path d="M92.70 159.60C92.05 160.42 89.92 162.32 88.80 164.50C87.68 166.68 86.67 169.28 86.00 172.70C85.33 176.12 85.00 180.45 84.80 185.00C84.60 189.55 84.60 195.87 84.80 200.00C85.00 204.13 85.22 207.07 86.00 209.80C86.78 212.53 87.75 214.22 89.50 216.40C91.25 218.58 95.33 221.82 96.50 222.90" stroke="#fdcd32" stroke-width="5.0"/>
<path d="M96.40 162.90C95.85 163.72 93.90 166.17 93.10 167.80C92.30 169.43 92.02 169.83 91.60 172.70C91.18 175.57 90.77 180.45 90.60 185.00C90.43 189.55 90.40 196.17 90.60 200.00C90.80 203.83 91.12 205.27 91.80 208.00C92.48 210.73 93.40 214.18 94.70 216.40C96.00 218.62 98.78 220.48 99.60 221.30" stroke="#3e26a8" stroke-width="3.4"/>
</g></g>
<g fill="none" filter="url(#bl07)" stroke-linecap="round">
<path d="M94.6 171C94.2 175 94.2 179 94.8 183C96 188 97.5 191 98.7 192.9C100.5 195 103 197 105.3 198.5" stroke="#fec834" stroke-width="2.7"/>
<path d="M96.5 218C95 213 94.0 208 94.8 203C96 198 97.5 195 98.7 192.9C100.5 190.5 103 188 105.3 186" stroke="#fec834" stroke-width="2.7"/>
<path d="M102.5 165C101.0 172 100.9 180 101.4 187" stroke="#2c90f0" stroke-width="3.0" opacity="0.45"/>
<path d="M101.6 172C101.0 177 100.9 182 101.2 188" stroke="#2d8af5" stroke-width="3.2"/>
<path d="M101.4 198C101 205 101.5 210 104 217" stroke="#2c90f0" stroke-width="3.0" opacity="0.45"/>
<path d="M101.4 197.5C101.2 201 101.4 204 102.0 207" stroke="#2d8af5" stroke-width="3.2"/>
<path d="M105.7 182.5V188.5" stroke="#fcd030" stroke-width="2.8"/>
<path d="M105.7 195V199.5" stroke="#f6df29" stroke-width="3.0"/>
</g>
<g fill="none" filter="url(#bl1)" stroke-linecap="round" opacity="0.55">
<path d="M108.0 193.0L135.0 175.0" stroke="#b2c635" stroke-width="1.6"/>
<path d="M108.5 184.7L131.5 170.0" stroke="#a2c840" stroke-width="1.6"/>
<path d="M107.0 198.0L151.0 211.0" stroke="#b2c635" stroke-width="1.6"/>
<path d="M106.0 202.0L151.0 220.0" stroke="#a2c840" stroke-width="1.6"/>
<path d="M109.0 189.0L134.0 172.5" stroke="#22a1e4" stroke-width="1.6"/>
<path d="M108.0 200.0L151.0 215.5" stroke="#22a1e4" stroke-width="1.6"/>
<path d="M104.0 172.7L131.5 161.3" stroke="#91ca4c" stroke-width="1.5"/>
<path d="M104.0 168.0L136.0 152.0" stroke="#1aacdd" stroke-width="1.5"/>
<path d="M106.0 178.0L133.0 166.0" stroke="#1aacdd" stroke-width="1.5"/>
<path d="M108.0 207.0L148.0 228.0" stroke="#1aacdd" stroke-width="1.5"/>
<path d="M110.0 212.0L146.0 233.0" stroke="#80cc59" stroke-width="1.4"/>
<path d="M104.0 164.0L140.0 146.0" stroke="#80cc59" stroke-width="1.4"/>
<path d="M112.0 192.5L150.0 192.5" stroke="#01b8c9" stroke-width="2.0"/>
<path d="M112.0 187.0L150.0 180.0" stroke="#5fcd73" stroke-width="1.5"/>
<path d="M112.0 197.0L150.0 203.0" stroke="#09b4d1" stroke-width="1.5"/>
</g>
</g>
<path d="M27.80 243.90v-1.2M27.80 140.10v1.2" stroke="#333" stroke-width="0.5" opacity="0.8"/>
<text x="27.80" y="256.10" font-size="8.2" text-anchor="middle">0</text>
<path d="M68.80 243.90v-1.2M68.80 140.10v1.2" stroke="#333" stroke-width="0.5" opacity="0.8"/>
<text x="68.80" y="256.10" font-size="8.2" text-anchor="middle">2</text>
<path d="M110.00 243.90v-1.2M110.00 140.10v1.2" stroke="#333" stroke-width="0.5" opacity="0.8"/>
<text x="110.00" y="256.10" font-size="8.2" text-anchor="middle">4</text>
<path d="M151.20 243.90v-1.2M151.20 140.10v1.2" stroke="#333" stroke-width="0.5" opacity="0.8"/>
<text x="151.20" y="256.10" font-size="8.2" text-anchor="middle">6</text>
<path d="M27.50 141.40h1.2M152.40 141.40h-1.2" stroke="#333" stroke-width="0.5" opacity="0.8"/>
<text x="24.30" y="144.35" font-size="8.2" text-anchor="end">0</text>
<path d="M27.50 160.10h1.2M152.40 160.10h-1.2" stroke="#333" stroke-width="0.5" opacity="0.8"/>
<text x="24.30" y="163.05" font-size="8.2" text-anchor="end">2</text>
<path d="M27.50 178.80h1.2M152.40 178.80h-1.2" stroke="#333" stroke-width="0.5" opacity="0.8"/>
<text x="24.30" y="181.75" font-size="8.2" text-anchor="end">4</text>
<path d="M27.50 197.50h1.2M152.40 197.50h-1.2" stroke="#333" stroke-width="0.5" opacity="0.8"/>
<text x="24.30" y="200.45" font-size="8.2" text-anchor="end">6</text>
<path d="M27.50 216.20h1.2M152.40 216.20h-1.2" stroke="#333" stroke-width="0.5" opacity="0.8"/>
<text x="24.30" y="219.15" font-size="8.2" text-anchor="end">8</text>
<path d="M27.50 234.90h1.2M152.40 234.90h-1.2" stroke="#333" stroke-width="0.5" opacity="0.8"/>
<text x="24.30" y="237.85" font-size="8.2" text-anchor="end">10</text>
<text x="89.35" y="269.10" font-size="9.7" text-anchor="middle">distance [mm]</text>
<text transform="translate(10.60 192.20) rotate(-90)" font-size="9.9" text-anchor="middle">height [mm]</text>
<text transform="matrix(0.1503 0 0 0.1544 38.75 236.87)" font-size="100" fill="#0a0a0a" stroke="#0a0a0a" stroke-width="0.33">b</text>
<rect x="157.50" y="140.10" width="7.30" height="103.60" fill="url(#cbb)"/>
<text x="167.30" y="152.57" font-size="8.2">1000</text>
<text x="167.30" y="171.85" font-size="8.2">500</text>
<text x="167.30" y="191.13" font-size="8.2">0</text>
<text x="167.30" y="210.41" font-size="8.2">-500</text>
<text x="167.30" y="229.69" font-size="8.2">-1000</text>
<text x="161.20" y="135.70" font-size="8.1" text-anchor="middle">Amp. [mVolt]</text>
<g clip-path="url(#clipd)">
<rect x="209.70" y="140.10" width="126.10" height="103.70" fill="#36c595"/>
<rect x="210" y="140" width="46" height="104" fill="url(#strd)" mask="url(#mstrd)" opacity="0.5"/>
<g fill="none" filter="url(#bl03)">
<path d="M209.03 139.62L337.33 248.12" stroke="#05bbc1" stroke-width="1.00" opacity="0.70"/>
<path d="M209.96 138.51L338.26 247.01" stroke="#cfc028" stroke-width="1.10" opacity="1.00"/>
<path d="M210.90 137.40L339.20 245.90" stroke="#3b73fe" stroke-width="1.35" opacity="1.00"/>
<path d="M211.84 136.29L340.14 244.79" stroke="#aac73a" stroke-width="1.05" opacity="1.00"/>
<path d="M212.71 135.26L341.01 243.76" stroke="#08b5d0" stroke-width="1.00" opacity="0.80"/>
<path d="M213.48 134.34L341.78 242.84" stroke="#58cc79" stroke-width="0.90" opacity="0.60"/>
</g></g>
<path d="M222.80 243.80v-1.2M222.80 140.10v1.2" stroke="#333" stroke-width="0.5" opacity="0.8"/>
<text x="222.80" y="256.00" font-size="8.2" text-anchor="middle">2</text>
<path d="M249.00 243.80v-1.2M249.00 140.10v1.2" stroke="#333" stroke-width="0.5" opacity="0.8"/>
<text x="249.00" y="256.00" font-size="8.2" text-anchor="middle">4</text>
<path d="M275.30 243.80v-1.2M275.30 140.10v1.2" stroke="#333" stroke-width="0.5" opacity="0.8"/>
<text x="275.30" y="256.00" font-size="8.2" text-anchor="middle">6</text>
<path d="M301.50 243.80v-1.2M301.50 140.10v1.2" stroke="#333" stroke-width="0.5" opacity="0.8"/>
<text x="301.50" y="256.00" font-size="8.2" text-anchor="middle">8</text>
<path d="M327.80 243.80v-1.2M327.80 140.10v1.2" stroke="#333" stroke-width="0.5" opacity="0.8"/>
<text x="327.80" y="256.00" font-size="8.2" text-anchor="middle">10</text>
<path d="M209.70 153.50h1.2M335.80 153.50h-1.2" stroke="#333" stroke-width="0.5" opacity="0.8"/>
<text x="206.50" y="156.45" font-size="8.2" text-anchor="end">2</text>
<path d="M209.70 175.90h1.2M335.80 175.90h-1.2" stroke="#333" stroke-width="0.5" opacity="0.8"/>
<text x="206.50" y="178.85" font-size="8.2" text-anchor="end">4</text>
<path d="M209.70 198.30h1.2M335.80 198.30h-1.2" stroke="#333" stroke-width="0.5" opacity="0.8"/>
<text x="206.50" y="201.25" font-size="8.2" text-anchor="end">6</text>
<path d="M209.70 220.80h1.2M335.80 220.80h-1.2" stroke="#333" stroke-width="0.5" opacity="0.8"/>
<text x="206.50" y="223.75" font-size="8.2" text-anchor="end">8</text>
<path d="M209.70 243.20h1.2M335.80 243.20h-1.2" stroke="#333" stroke-width="0.5" opacity="0.8"/>
<text x="206.50" y="246.15" font-size="8.2" text-anchor="end">10</text>
<text x="272.15" y="269.00" font-size="9.7" text-anchor="middle">distance [mm]</text>
<text transform="translate(192.50 192.15) rotate(-90)" font-size="9.9" text-anchor="middle">depth [mm]</text>
<text transform="matrix(0.1522 0 0 0.1476 224.39 236.78)" font-size="100" fill="#0a0a0a" stroke="#0a0a0a" stroke-width="0.33">d</text>
<rect x="339.20" y="140.10" width="7.10" height="103.60" fill="url(#cbd)"/>
<text x="348.80" y="150.72" font-size="8.2">200</text>
<text x="348.80" y="169.91" font-size="8.2">100</text>
<text x="348.80" y="189.09" font-size="8.2">0</text>
<text x="348.80" y="208.28" font-size="8.2">-100</text>
<text x="348.80" y="227.46" font-size="8.2">-200</text>
<text x="348.80" y="246.65" font-size="8.2">-300</text>
<text x="342.80" y="135.70" font-size="8.1" text-anchor="middle">Amp. [mVolt]</text>
<g clip-path="url(#clipf)">
<rect x="385.50" y="140.10" width="131.40" height="103.80" fill="#46c987"/>
<rect x="386" y="140" width="52" height="104" fill="url(#strf)" mask="url(#mstr)" opacity="0.6"/>
<g mask="url(#mf)"><g fill="none" filter="url(#bl05)">
<path d="M485.82 138.00C484.92 138.67 482.21 140.67 480.43 142.00C478.64 143.33 476.87 144.67 475.12 146.00C473.37 147.33 471.63 148.67 469.92 150.00C468.21 151.33 466.52 152.67 464.86 154.00C463.20 155.33 461.56 156.67 459.96 158.00C458.36 159.33 456.79 160.67 455.27 162.00C453.75 163.33 452.26 164.67 450.84 166.00C449.41 167.33 448.03 168.67 446.74 170.00C445.44 171.33 444.19 172.67 443.06 174.00C441.92 175.33 440.85 176.67 439.91 178.00C438.97 179.33 438.11 180.67 437.41 182.00C436.71 183.33 436.12 184.67 435.69 186.00C435.27 187.33 434.99 188.67 434.87 190.00C434.75 191.33 434.79 192.67 434.99 194.00C435.18 195.33 435.55 196.67 436.04 198.00C436.54 199.33 437.20 200.67 437.97 202.00C438.73 203.33 439.64 204.67 440.64 206.00C441.63 207.33 442.75 208.67 443.93 210.00C445.11 211.33 446.39 212.67 447.73 214.00C449.06 215.33 450.47 216.67 451.92 218.00C453.36 219.33 454.88 220.67 456.42 222.00C457.96 223.33 459.55 224.67 461.17 226.00C462.78 227.33 464.44 228.67 466.11 230.00C467.79 231.33 469.49 232.67 471.21 234.00C472.93 235.33 474.68 236.67 476.44 238.00C478.20 239.33 479.98 240.67 481.77 242.00C483.56 243.33 486.28 245.33 487.18 246.00" stroke="#f5e526" stroke-width="2.3"/>
<path d="M488.02 138.00C487.12 138.67 484.41 140.67 482.63 142.00C480.84 143.33 479.07 144.67 477.32 146.00C475.57 147.33 473.83 148.67 472.12 150.00C470.41 151.33 468.72 152.67 467.06 154.00C465.40 155.33 463.76 156.67 462.16 158.00C460.56 159.33 458.99 160.67 457.47 162.00C455.95 163.33 454.46 164.67 453.04 166.00C451.61 167.33 450.23 168.67 448.94 170.00C447.64 171.33 446.39 172.67 445.26 174.00C444.12 175.33 443.05 176.67 442.11 178.00C441.17 179.33 440.31 180.67 439.61 182.00C438.91 183.33 438.32 184.67 437.89 186.00C437.47 187.33 437.19 188.67 437.07 190.00C436.95 191.33 436.99 192.67 437.19 194.00C437.38 195.33 437.75 196.67 438.24 198.00C438.74 199.33 439.40 200.67 440.17 202.00C440.93 203.33 441.84 204.67 442.84 206.00C443.83 207.33 444.95 208.67 446.13 210.00C447.31 211.33 448.59 212.67 449.93 214.00C451.26 215.33 452.67 216.67 454.12 218.00C455.56 219.33 457.08 220.67 458.62 222.00C460.16 223.33 461.75 224.67 463.37 226.00C464.98 227.33 466.64 228.67 468.31 230.00C469.99 231.33 471.69 232.67 473.41 234.00C475.13 235.33 476.88 236.67 478.64 238.00C480.40 239.33 482.18 240.67 483.97 242.00C485.76 243.33 488.48 245.33 489.38 246.00" stroke="#465ffb" stroke-width="1.8"/>
<path d="M489.72 138.00C488.82 138.67 486.11 140.67 484.33 142.00C482.54 143.33 480.77 144.67 479.02 146.00C477.27 147.33 475.53 148.67 473.82 150.00C472.11 151.33 470.42 152.67 468.76 154.00C467.10 155.33 465.46 156.67 463.86 158.00C462.26 159.33 460.69 160.67 459.17 162.00C457.65 163.33 456.16 164.67 454.74 166.00C453.31 167.33 451.93 168.67 450.64 170.00C449.34 171.33 448.09 172.67 446.96 174.00C445.82 175.33 444.75 176.67 443.81 178.00C442.87 179.33 442.01 180.67 441.31 182.00C440.61 183.33 440.02 184.67 439.59 186.00C439.17 187.33 438.89 188.67 438.77 190.00C438.65 191.33 438.69 192.67 438.89 194.00C439.08 195.33 439.45 196.67 439.94 198.00C440.44 199.33 441.10 200.67 441.87 202.00C442.63 203.33 443.54 204.67 444.54 206.00C445.53 207.33 446.65 208.67 447.83 210.00C449.01 211.33 450.29 212.67 451.63 214.00C452.96 215.33 454.37 216.67 455.82 218.00C457.26 219.33 458.78 220.67 460.32 222.00C461.86 223.33 463.45 224.67 465.07 226.00C466.68 227.33 468.34 228.67 470.01 230.00C471.69 231.33 473.39 232.67 475.11 234.00C476.83 235.33 478.58 236.67 480.34 238.00C482.10 239.33 483.88 240.67 485.67 242.00C487.46 243.33 490.18 245.33 491.08 246.00" stroke="#f6de29" stroke-width="1.5"/>
<path d="M491.32 138.00C490.42 138.67 487.71 140.67 485.93 142.00C484.14 143.33 482.37 144.67 480.62 146.00C478.87 147.33 477.13 148.67 475.42 150.00C473.71 151.33 472.02 152.67 470.36 154.00C468.70 155.33 467.06 156.67 465.46 158.00C463.86 159.33 462.29 160.67 460.77 162.00C459.25 163.33 457.76 164.67 456.34 166.00C454.91 167.33 453.53 168.67 452.24 170.00C450.94 171.33 449.69 172.67 448.56 174.00C447.42 175.33 446.35 176.67 445.41 178.00C444.47 179.33 443.61 180.67 442.91 182.00C442.21 183.33 441.62 184.67 441.19 186.00C440.77 187.33 440.49 188.67 440.37 190.00C440.25 191.33 440.29 192.67 440.49 194.00C440.68 195.33 441.05 196.67 441.54 198.00C442.04 199.33 442.70 200.67 443.47 202.00C444.23 203.33 445.14 204.67 446.14 206.00C447.13 207.33 448.25 208.67 449.43 210.00C450.61 211.33 451.89 212.67 453.23 214.00C454.56 215.33 455.97 216.67 457.42 218.00C458.86 219.33 460.38 220.67 461.92 222.00C463.46 223.33 465.05 224.67 466.67 226.00C468.28 227.33 469.94 228.67 471.61 230.00C473.29 231.33 474.99 232.67 476.71 234.00C478.43 235.33 480.18 236.67 481.94 238.00C483.70 239.33 485.48 240.67 487.27 242.00C489.06 243.33 491.78 245.33 492.68 246.00" stroke="#11b1d6" stroke-width="1.3" opacity="0.85"/>
<path d="M493.02 138.00C492.12 138.67 489.41 140.67 487.63 142.00C485.84 143.33 484.07 144.67 482.32 146.00C480.57 147.33 478.83 148.67 477.12 150.00C475.41 151.33 473.72 152.67 472.06 154.00C470.40 155.33 468.76 156.67 467.16 158.00C465.56 159.33 463.99 160.67 462.47 162.00C460.95 163.33 459.46 164.67 458.04 166.00C456.61 167.33 455.23 168.67 453.94 170.00C452.64 171.33 451.39 172.67 450.26 174.00C449.12 175.33 448.05 176.67 447.11 178.00C446.17 179.33 445.31 180.67 444.61 182.00C443.91 183.33 443.32 184.67 442.89 186.00C442.47 187.33 442.19 188.67 442.07 190.00C441.95 191.33 441.99 192.67 442.19 194.00C442.38 195.33 442.75 196.67 443.24 198.00C443.74 199.33 444.40 200.67 445.17 202.00C445.93 203.33 446.84 204.67 447.84 206.00C448.83 207.33 449.95 208.67 451.13 210.00C452.31 211.33 453.59 212.67 454.93 214.00C456.26 215.33 457.67 216.67 459.12 218.00C460.56 219.33 462.08 220.67 463.62 222.00C465.16 223.33 466.75 224.67 468.37 226.00C469.98 227.33 471.64 228.67 473.31 230.00C474.99 231.33 476.69 232.67 478.41 234.00C480.13 235.33 481.88 236.67 483.64 238.00C485.40 239.33 487.18 240.67 488.97 242.00C490.76 243.33 493.48 245.33 494.38 246.00" stroke="#b5c533" stroke-width="1.1" opacity="0.75"/>
<path d="M494.82 138.00C493.92 138.67 491.21 140.67 489.43 142.00C487.64 143.33 485.87 144.67 484.12 146.00C482.37 147.33 480.63 148.67 478.92 150.00C477.21 151.33 475.52 152.67 473.86 154.00C472.20 155.33 470.56 156.67 468.96 158.00C467.36 159.33 465.79 160.67 464.27 162.00C462.75 163.33 461.26 164.67 459.84 166.00C458.41 167.33 457.03 168.67 455.74 170.00C454.44 171.33 453.19 172.67 452.06 174.00C450.92 175.33 449.85 176.67 448.91 178.00C447.97 179.33 447.11 180.67 446.41 182.00C445.71 183.33 445.12 184.67 444.69 186.00C444.27 187.33 443.99 188.67 443.87 190.00C443.75 191.33 443.79 192.67 443.99 194.00C444.18 195.33 444.55 196.67 445.04 198.00C445.54 199.33 446.20 200.67 446.97 202.00C447.73 203.33 448.64 204.67 449.64 206.00C450.63 207.33 451.75 208.67 452.93 210.00C454.11 211.33 455.39 212.67 456.73 214.00C458.06 215.33 459.47 216.67 460.92 218.00C462.36 219.33 463.88 220.67 465.42 222.00C466.96 223.33 468.55 224.67 470.17 226.00C471.78 227.33 473.44 228.67 475.11 230.00C476.79 231.33 478.49 232.67 480.21 234.00C481.93 235.33 483.68 236.67 485.44 238.00C487.20 239.33 488.98 240.67 490.77 242.00C492.56 243.33 495.28 245.33 496.18 246.00" stroke="#1abfb5" stroke-width="1.0" opacity="0.55"/>
<path d="M496.62 138.00C495.72 138.67 493.01 140.67 491.23 142.00C489.44 143.33 487.67 144.67 485.92 146.00C484.17 147.33 482.43 148.67 480.72 150.00C479.01 151.33 477.32 152.67 475.66 154.00C474.00 155.33 472.36 156.67 470.76 158.00C469.16 159.33 467.59 160.67 466.07 162.00C464.55 163.33 463.06 164.67 461.64 166.00C460.21 167.33 458.83 168.67 457.54 170.00C456.24 171.33 454.99 172.67 453.86 174.00C452.72 175.33 451.65 176.67 450.71 178.00C449.77 179.33 448.91 180.67 448.21 182.00C447.51 183.33 446.92 184.67 446.49 186.00C446.07 187.33 445.79 188.67 445.67 190.00C445.55 191.33 445.59 192.67 445.79 194.00C445.98 195.33 446.35 196.67 446.84 198.00C447.34 199.33 448.00 200.67 448.77 202.00C449.53 203.33 450.44 204.67 451.44 206.00C452.43 207.33 453.55 208.67 454.73 210.00C455.91 211.33 457.19 212.67 458.53 214.00C459.86 215.33 461.27 216.67 462.72 218.00C464.16 219.33 465.68 220.67 467.22 222.00C468.76 223.33 470.35 224.67 471.97 226.00C473.58 227.33 475.24 228.67 476.91 230.00C478.59 231.33 480.29 232.67 482.01 234.00C483.73 235.33 485.48 236.67 487.24 238.00C489.00 239.33 490.78 240.67 492.57 242.00C494.36 243.33 497.08 245.33 497.98 246.00" stroke="#89cb53" stroke-width="1.0" opacity="0.45"/>
<path d="M498.62 138.00C497.72 138.67 495.01 140.67 493.23 142.00C491.44 143.33 489.67 144.67 487.92 146.00C486.17 147.33 484.43 148.67 482.72 150.00C481.01 151.33 479.32 152.67 477.66 154.00C476.00 155.33 474.36 156.67 472.76 158.00C471.16 159.33 469.59 160.67 468.07 162.00C466.55 163.33 465.06 164.67 463.64 166.00C462.21 167.33 460.83 168.67 459.54 170.00C458.24 171.33 456.99 172.67 455.86 174.00C454.72 175.33 453.65 176.67 452.71 178.00C451.77 179.33 450.91 180.67 450.21 182.00C449.51 183.33 448.92 184.67 448.49 186.00C448.07 187.33 447.79 188.67 447.67 190.00C447.55 191.33 447.59 192.67 447.79 194.00C447.98 195.33 448.35 196.67 448.84 198.00C449.34 199.33 450.00 200.67 450.77 202.00C451.53 203.33 452.44 204.67 453.44 206.00C454.43 207.33 455.55 208.67 456.73 210.00C457.91 211.33 459.19 212.67 460.53 214.00C461.86 215.33 463.27 216.67 464.72 218.00C466.16 219.33 467.68 220.67 469.22 222.00C470.76 223.33 472.35 224.67 473.97 226.00C475.58 227.33 477.24 228.67 478.91 230.00C480.59 231.33 482.29 232.67 484.01 234.00C485.73 235.33 487.48 236.67 489.24 238.00C491.00 239.33 492.78 240.67 494.57 242.00C496.36 243.33 499.08 245.33 499.98 246.00" stroke="#29c3aa" stroke-width="1.0" opacity="0.3"/>
</g></g>
</g>
<path d="M386.20 243.90v-1.2M386.20 140.10v1.2" stroke="#333" stroke-width="0.5" opacity="0.8"/>
<text x="386.20" y="256.10" font-size="8.2" text-anchor="middle">0</text>
<path d="M443.80 243.90v-1.2M443.80 140.10v1.2" stroke="#333" stroke-width="0.5" opacity="0.8"/>
<text x="443.80" y="256.10" font-size="8.2" text-anchor="middle">5</text>
<path d="M501.80 243.90v-1.2M501.80 140.10v1.2" stroke="#333" stroke-width="0.5" opacity="0.8"/>
<text x="501.80" y="256.10" font-size="8.2" text-anchor="middle">10</text>
<path d="M385.50 141.40h1.2M516.90 141.40h-1.2" stroke="#333" stroke-width="0.5" opacity="0.8"/>
<text x="382.30" y="144.35" font-size="8.2" text-anchor="end">0</text>
<path d="M385.50 170.80h1.2M516.90 170.80h-1.2" stroke="#333" stroke-width="0.5" opacity="0.8"/>
<text x="382.30" y="173.75" font-size="8.2" text-anchor="end">2</text>
<path d="M385.50 200.10h1.2M516.90 200.10h-1.2" stroke="#333" stroke-width="0.5" opacity="0.8"/>
<text x="382.30" y="203.05" font-size="8.2" text-anchor="end">4</text>
<path d="M385.50 229.50h1.2M516.90 229.50h-1.2" stroke="#333" stroke-width="0.5" opacity="0.8"/>
<text x="382.30" y="232.45" font-size="8.2" text-anchor="end">6</text>
<text x="450.60" y="269.10" font-size="9.7" text-anchor="middle">distance [mm]</text>
<text transform="translate(372.40 192.20) rotate(-90)" font-size="9.9" text-anchor="middle">width [mm]</text>
<text transform="matrix(0.1981 0 0 0.1623 395.85 230.82)" font-size="100" fill="#0a0a0a" stroke="#0a0a0a" stroke-width="0.28">f</text>
<rect x="520.20" y="140.10" width="7.20" height="103.60" fill="url(#cbf)"/>
<text x="529.90" y="154.56" font-size="8.2">100</text>
<text x="529.90" y="185.26" font-size="8.2">0</text>
<text x="529.90" y="215.95" font-size="8.2">-100</text>
<text x="529.90" y="246.65" font-size="8.2">-200</text>
<text x="523.20" y="135.70" font-size="8.1" text-anchor="middle">Amp. [mVolt]</text>
</svg>
</body></html>
